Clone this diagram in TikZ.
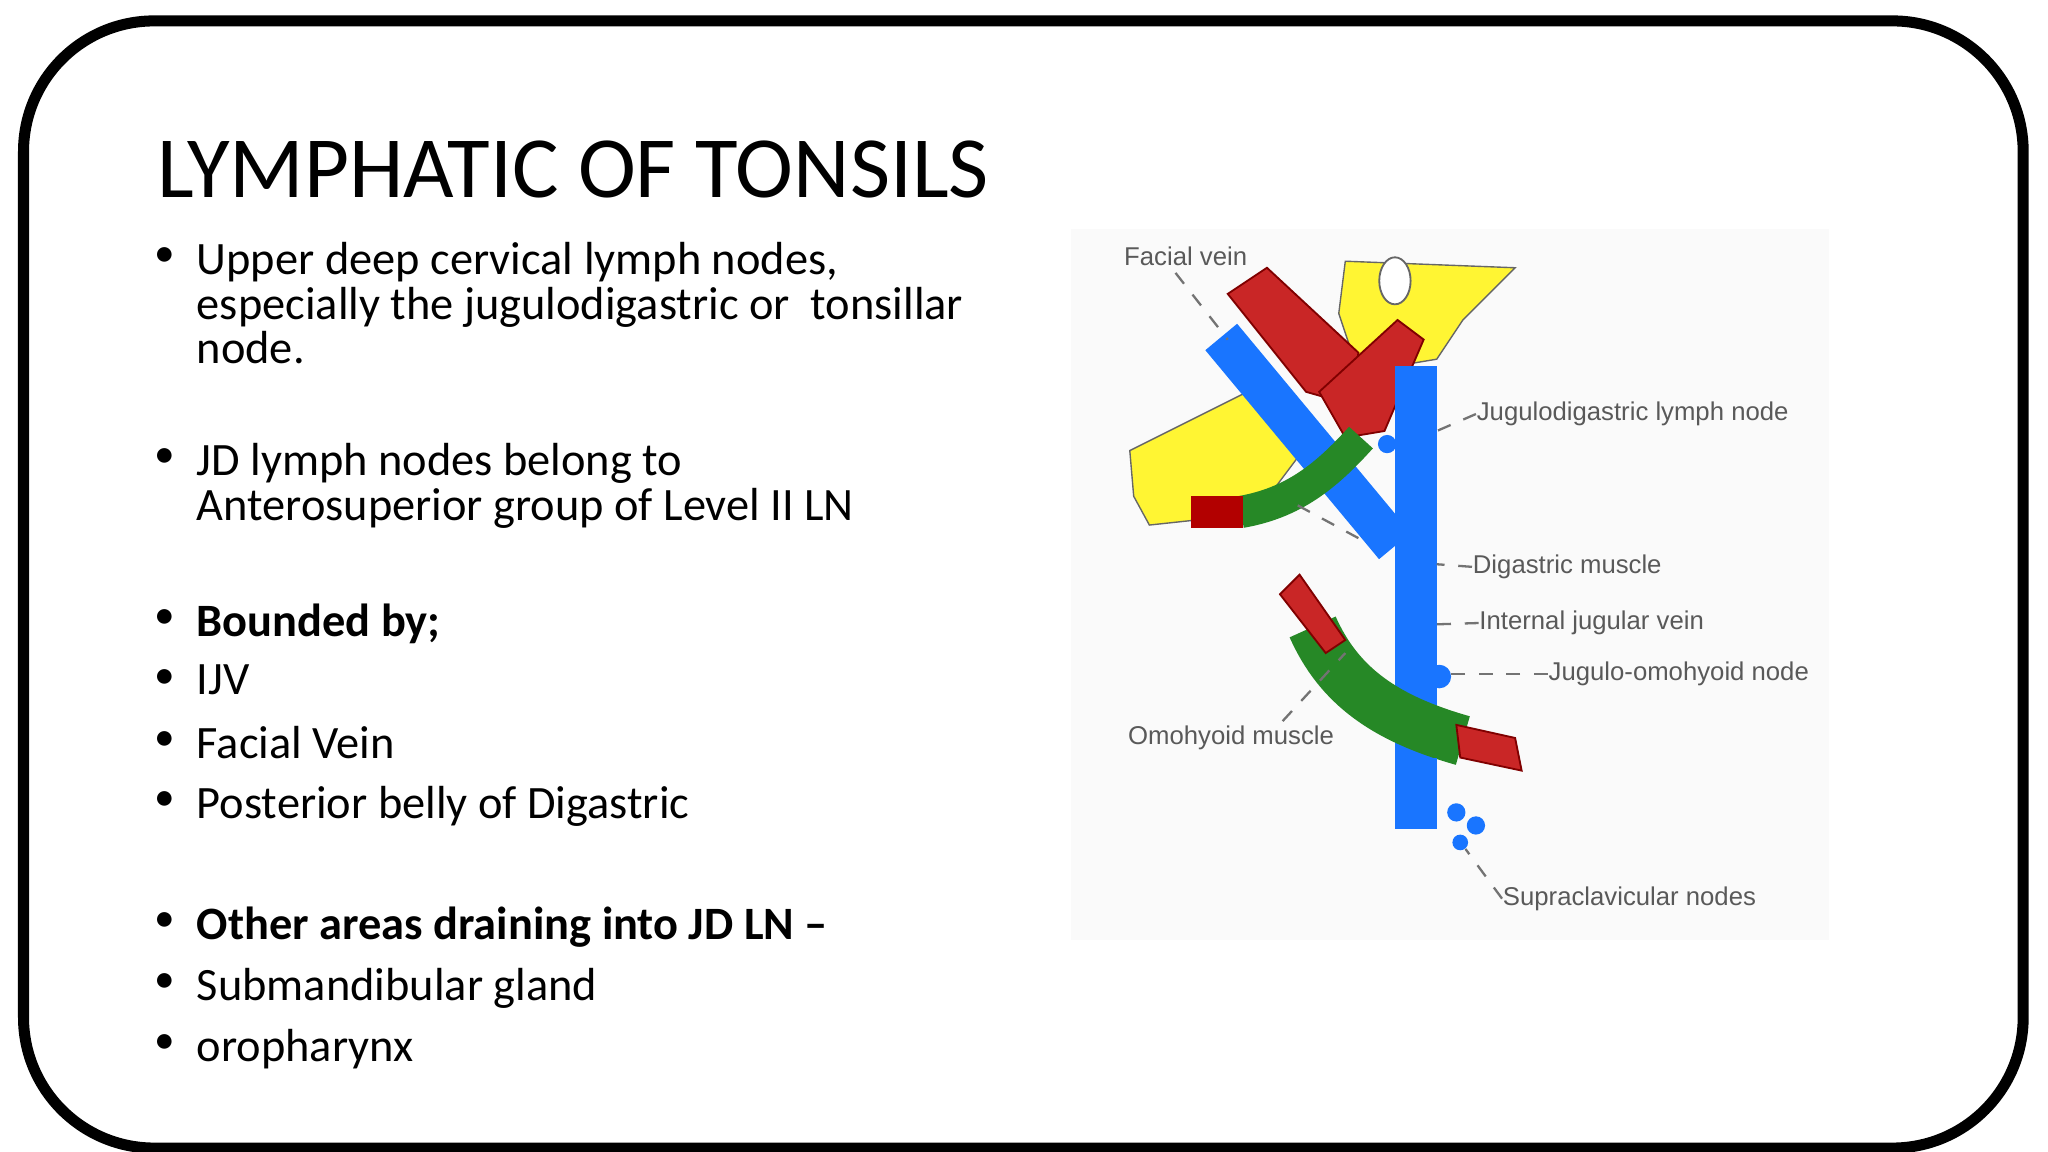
\documentclass[tikz,border=0pt]{standalone}
\usepackage{fontspec}
\setmainfont{Carlito}
\newfontfamily\lab{Liberation Sans}
\begin{document}
\begin{tikzpicture}[x=0.01cm,y=-0.01cm,
  bul/.style={anchor=west,font=\fontsize{10.1}{8.6}\selectfont,align=left,inner sep=0},
  lbl/.style={anchor=west,font=\lab\fontsize{5.6}{6}\selectfont,text=black!65,inner sep=0},
  lead/.style={dashed,black!55,line width=0.5pt},
  mus/.style={fill=red!75!black!85,draw=red!50!black,line width=0.4pt},
  vein/.style={fill=blue!60!cyan!90,draw=none},
  yel/.style={fill=yellow!80,draw=black!60,line width=0.3pt}]
\useasboundingbox (0,0) rectangle (1568,882);
\draw[line width=2.4pt,rounded corners=1cm] (18,16) rectangle (1549,879);
\node[anchor=west,inner sep=0,font=\fontsize{19}{20}\selectfont] (title) at (120,130) {LYMPHATIC OF TONSILS};
\foreach \y/\t in {198/{Upper deep cervical lymph nodes,\\especially the jugulodigastric or\ \ tonsillar\\node.},352/{JD lymph nodes belong to\\Anterosuperior group of Level II LN},475/{\textbf{Bounded by;}},521/{IJV},568/{Facial Vein},614/{Posterior belly of Digastric},707/{\textbf{Other areas draining into JD LN --}},754/{Submandibular gland},800/{oropharynx}}
  \node[bul,anchor=north west] at (150,\y-13) {\t};
\foreach \y in {198,352,475,521,568,614,707,754,800}
  \node[inner sep=0,font=\fontsize{9}{9}\selectfont] at (126,\y-1) {•};
% illustration
\fill[black!2] (820,175) rectangle (1400,720);
\draw[yel] (1030,200) -- (1160,205) -- (1120,245) -- (1100,275) -- (1040,285) -- (1025,240) -- cycle;
\draw[yel] (865,345) -- (955,300) -- (1005,335) -- (975,375) -- (945,395) -- (880,402) -- (868,380) -- cycle;
\draw[fill=white,draw=black!60] (1068,215) ellipse (12 and 18);
\draw[mus] (940,225) -- (970,205) -- (1040,270) -- (1035,310) -- (1000,300) -- cycle;
\draw[mus] (1010,300) -- (1070,245) -- (1090,260) -- (1060,330) -- (1030,335) -- cycle;
\draw[vein] (1068,280) rectangle (1100,635);
\draw[line width=9pt,blue!60!cyan!90] (935,258) -- (1068,418);
\draw[line width=7pt,green!45!black!85] (950,392) .. controls (990,385) and (1015,365) .. (1042,335);
\draw[line width=7pt,red!70!black] (912,392) -- (952,392);
\draw[line width=11pt,green!45!black!85] (1005,480) .. controls (1025,525) and (1060,550) .. (1120,567);
\draw[mus] (980,455) -- (995,440) -- (1030,490) -- (1015,500) -- cycle;
\draw[mus] (1115,555) -- (1160,565) -- (1165,590) -- (1118,580) -- cycle;
\draw[vein] (1068,580) rectangle (1100,635);
\fill[blue!60!cyan!90] (1062,340) circle (7);
\fill[blue!60!cyan!90] (1102,518) circle (9);
\fill[blue!60!cyan!90] (1115,622) circle (7) (1130,632) circle (7) (1118,645) circle (6);
\node[lbl] (fv) at (860,196) {Facial vein};
\node[lbl] (jd) at (1130,317) {Jugulodigastric lymph node};
\node[lbl] (dm) at (1127,434) {Digastric muscle};
\node[lbl] (ij) at (1132,477) {Internal jugular vein};
\node[lbl] (jo) at (1185,516) {Jugulo-omohyoid node};
\node[lbl] (om) at (863,565) {Omohyoid muscle};
\node[lbl] (sc) at (1150,688) {Supraclavicular nodes};
\coordinate (fvt) at (940,260);
\draw[lead] (fv.south west)++(40,5) -- (fvt);
\draw[lead] (jd.west) -- (1100,330);
\draw[lead] (dm.west) -- (1100,432);
\draw[lead] (ij.west) -- (1100,478);
\draw[lead] (jo.west) -- (1110,516);
\draw[lead] (1040,412) -- (990,385);
\draw[lead] (om.north east)++(-40,-3) -- (1030,500);
\draw[lead] (sc.west) -- (1122,650);
\end{tikzpicture}
\end{document}
